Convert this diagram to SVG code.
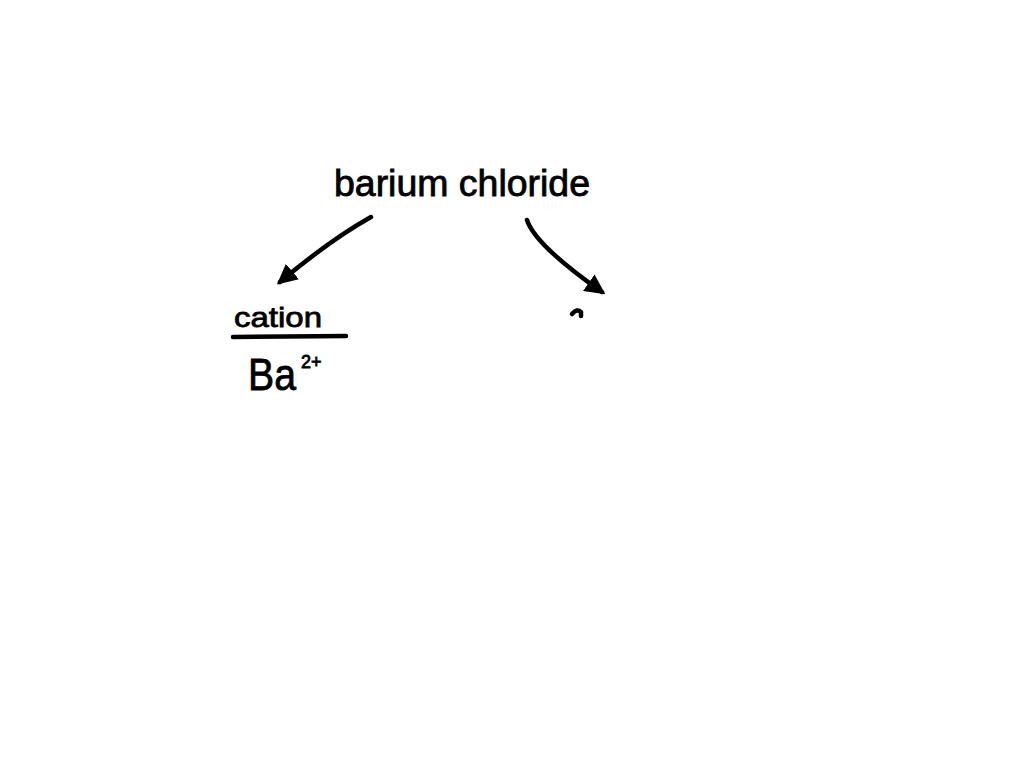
<svg xmlns="http://www.w3.org/2000/svg" width="1024" height="768" viewBox="0 0 1024 768">
<style>
.t{font-family:"Liberation Sans",Arial,sans-serif;fill:#000;stroke:#000;stroke-width:0.8}
.c{fill:none;stroke:#000;stroke-width:4.5;stroke-linecap:round;stroke-linejoin:round}
</style>
<defs>
<marker id="ah" viewBox="0 0 10 10" refX="8" refY="5" markerWidth="4.5" markerHeight="4.5" orient="auto" markerUnits="strokeWidth">
<path d="M0,0 L10,5 L0,10 z" fill="#000"/>
</marker>
</defs>
<rect width="1024" height="768" fill="#fff"/>
<g id="barium-chloride">
<text class="t" x="334" y="196" font-size="36" textLength="256" lengthAdjust="spacingAndGlyphs">barium  chloride</text>
</g>
<g id="cation">
<text class="t" x="234" y="327" font-size="28" textLength="88" lengthAdjust="spacingAndGlyphs">cation</text>
<line class="c" x1="233" y1="337" x2="346" y2="336"/>
<text class="t" x="248" y="390" font-size="44" textLength="48" lengthAdjust="spacingAndGlyphs">Ba</text>
<text class="t" x="301" y="368" font-size="18">2+</text>
</g>
<g id="anion">
<path class="c" d="M572,314 Q577,308 581,312 L581,316" stroke-width="3"/>
</g>
<g id="connectors">
<path class="c" d="M371,217 Q330,240 280,282" marker-end="url(#ah)"/>
<path class="c" d="M527,220 Q535,245 602,292" marker-end="url(#ah)"/>
</g>
</svg>
